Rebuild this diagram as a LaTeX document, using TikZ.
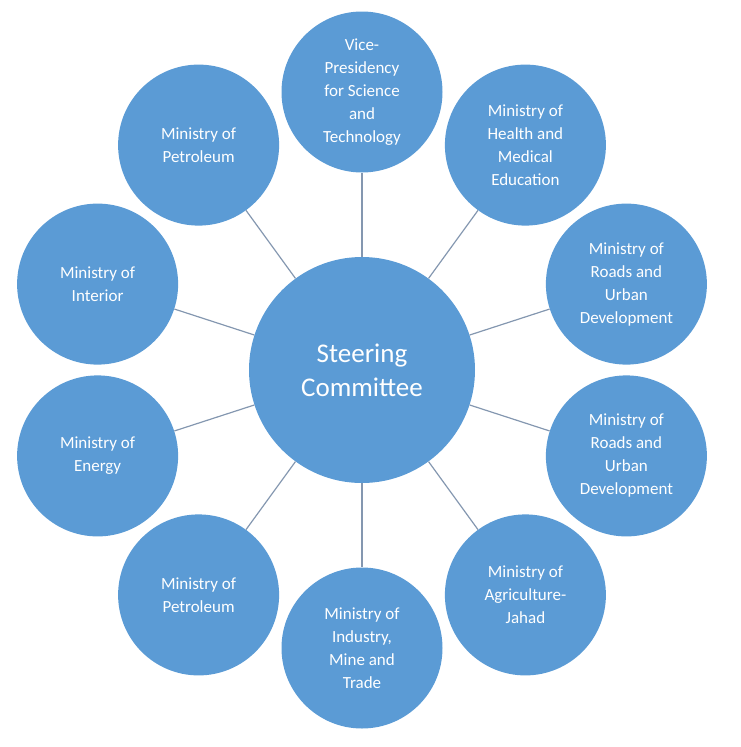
\documentclass[tikz,border=0pt]{standalone}
\usepackage{fontspec}
\setmainfont{Carlito}
\begin{document}
\begin{tikzpicture}[x=1pt,y=-1pt,
  sat/.style={circle,fill=circfill,minimum size=161pt,inner sep=0pt,text=white,align=center,font=\fontsize{17}{23}\selectfont},
  hub/.style={circle,fill=circfill,minimum size=226pt,inner sep=0pt,text=white,align=center,font=\fontsize{27}{34}\selectfont},
  link/.style={draw=linkgray,line width=1.2pt}]
\definecolor{circfill}{HTML}{5B9BD5}
\definecolor{linkgray}{HTML}{8497B0}
\useasboundingbox (0,0) rectangle (740,747);
\node[hub] (c) at (362,370) {Steering\\Committee};
\def\R{278}
\node[sat] (s1) at ({362+\R*cos(90)},{370-\R*sin(90)}) {Vice-\\Presidency\\for Science\\and\\Technology};
\node[sat] (s2) at ({362+\R*cos(54)},{370-\R*sin(54)}) {Ministry of\\Health and\\Medical\\Education};
\node[sat] (s3) at ({362+\R*cos(18)},{370-\R*sin(18)}) {Ministry of\\Roads and\\Urban\\Development};
\node[sat] (s4) at ({362+\R*cos(-18)},{370-\R*sin(-18)}) {Ministry of\\Roads and\\Urban\\Development};
\node[sat] (s5) at ({362+\R*cos(-54)},{370-\R*sin(-54)}) {Ministry of\\Agriculture-\\Jahad};
\node[sat] (s6) at ({362+\R*cos(-90)},{370-\R*sin(-90)}) {Ministry of\\Industry,\\Mine and\\Trade};
\node[sat] (s7) at ({362+\R*cos(-126)},{370-\R*sin(-126)}) {Ministry of\\Petroleum};
\node[sat] (s8) at ({362+\R*cos(-162)},{370-\R*sin(-162)}) {Ministry of\\Energy};
\node[sat] (s9) at ({362+\R*cos(162)},{370-\R*sin(162)}) {Ministry of\\Interior};
\node[sat] (s10) at ({362+\R*cos(126)},{370-\R*sin(126)}) {Ministry of\\Petroleum};
\foreach \i in {1,...,10} \draw[link] (c) -- (s\i);
\end{tikzpicture}
\end{document}
